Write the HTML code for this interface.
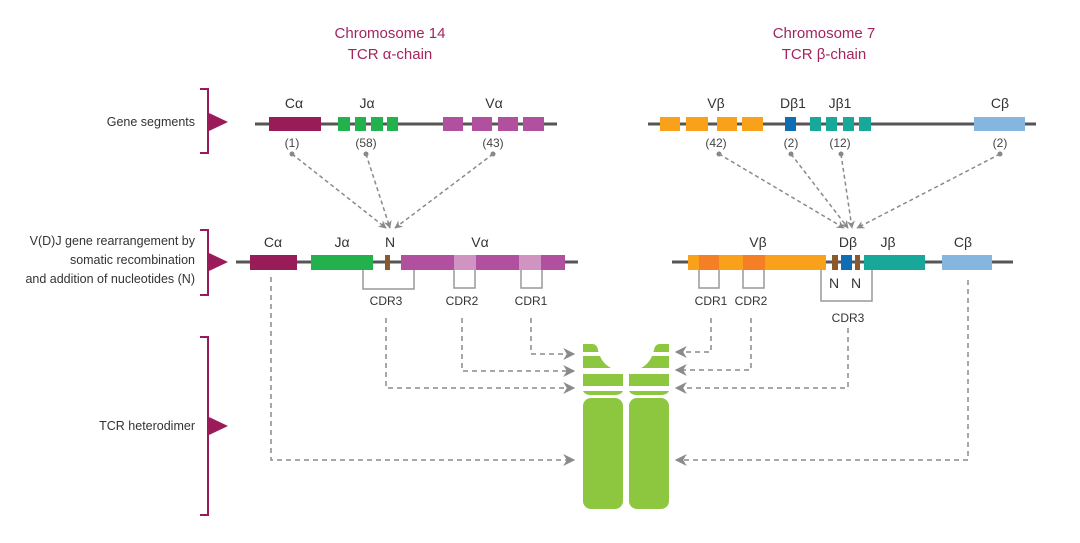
<!DOCTYPE html>
<html><head><meta charset="utf-8"><style>
html,body{margin:0;padding:0;background:#fff;}
svg{display:block;font-family:"Liberation Sans",sans-serif;}
</style></head><body>
<svg width="1080" height="543" viewBox="0 0 1080 543" xmlns="http://www.w3.org/2000/svg">
<defs>
<marker id="ah" viewBox="0 0 10 10" refX="9" refY="5" markerWidth="12" markerHeight="12" markerUnits="userSpaceOnUse" orient="auto"><path d="M0,0 L10,5 L0,10 L3,5 Z" fill="#8a8a8a"/></marker>
<marker id="ahs" viewBox="0 0 10 10" refX="9" refY="5" markerWidth="8" markerHeight="8" markerUnits="userSpaceOnUse" orient="auto"><path d="M0,0 L10,5 L0,10 L3,5 Z" fill="#8a8a8a"/></marker>
</defs>
<g fill="#a3245f" font-size="15" text-anchor="middle">
<text x="390" y="38">Chromosome 14</text><text x="390" y="59">TCR α-chain</text>
<text x="824" y="38">Chromosome 7</text><text x="824" y="59">TCR β-chain</text>
</g>
<g fill="#333" font-size="12.5" text-anchor="end">
<text x="195" y="126">Gene segments</text>
<text x="195" y="245">V(D)J gene rearrangement by</text>
<text x="195" y="264">somatic recombination</text>
<text x="195" y="283">and addition of nucleotides (N)</text>
<text x="195" y="430">TCR heterodimer</text>
</g>
<g stroke="#9b1b5a" stroke-width="2" fill="none">
<path d="M200,89 H208 V153 H200"/><path d="M200,230 H208 V295 H200"/><path d="M200,337 H208 V515 H200"/>
</g>
<g fill="#9b1b5a"><path d="M209,113 L228,122 L209,131Z"/><path d="M209,253 L228,262 L209,271Z"/><path d="M209,417 L228,426 L209,435Z"/></g>

<line x1="255" y1="124" x2="557" y2="124" stroke="#555" stroke-width="3"/>
<rect x="269" y="117" width="52" height="14" fill="#981c58"/>
<g fill="#22b14c"><rect x="338" y="117" width="12" height="14"/><rect x="355" y="117" width="11" height="14"/><rect x="371" y="117" width="12" height="14"/><rect x="387" y="117" width="11" height="14"/></g>
<g fill="#b0509e"><rect x="443" y="117" width="20" height="14"/><rect x="472" y="117" width="20" height="14"/><rect x="498" y="117" width="20" height="14"/><rect x="523" y="117" width="21" height="14"/></g>
<line x1="648" y1="124" x2="1036" y2="124" stroke="#555" stroke-width="3"/>
<g fill="#f9a11b"><rect x="660" y="117" width="20" height="14"/><rect x="686" y="117" width="22" height="14"/><rect x="717" y="117" width="20" height="14"/><rect x="742" y="117" width="21" height="14"/></g>
<rect x="785" y="117" width="11" height="14" fill="#0f6db5"/>
<g fill="#17a89a"><rect x="810" y="117" width="11" height="14"/><rect x="826" y="117" width="11" height="14"/><rect x="843" y="117" width="11" height="14"/><rect x="859" y="117" width="12" height="14"/></g>
<rect x="974" y="117" width="51" height="14" fill="#85b6e0"/>
<g fill="#333" font-size="14" text-anchor="middle">
<text x="294" y="108">Cα</text><text x="367" y="108">Jα</text><text x="494" y="108">Vα</text>
<text x="716" y="108">Vβ</text><text x="793" y="108">Dβ1</text><text x="840" y="108">Jβ1</text><text x="1000" y="108">Cβ</text>
</g>
<g fill="#444" font-size="12" text-anchor="middle">
<text x="292" y="147">(1)</text><text x="366" y="147">(58)</text><text x="493" y="147">(43)</text>
<text x="716" y="147">(42)</text><text x="791" y="147">(2)</text><text x="840" y="147">(12)</text><text x="1000" y="147">(2)</text>
</g>
<g fill="#888"><circle cx="292" cy="154" r="2.5"/><circle cx="366" cy="154" r="2.5"/><circle cx="493" cy="154" r="2.5"/><circle cx="719" cy="154" r="2.5"/><circle cx="791" cy="154" r="2.5"/><circle cx="841" cy="154" r="2.5"/><circle cx="1000" cy="154" r="2.5"/></g>
<g stroke="#8a8a8a" stroke-width="1.5" stroke-dasharray="4,3" fill="none" marker-end="url(#ahs)">
<line x1="292" y1="154" x2="386" y2="228"/><line x1="366" y1="154" x2="390" y2="228"/><line x1="493" y1="154" x2="395" y2="228"/>
<line x1="719" y1="154" x2="844" y2="228"/><line x1="791" y1="154" x2="848" y2="228"/><line x1="841" y1="154" x2="852" y2="228"/><line x1="1000" y1="154" x2="857" y2="228"/>
</g>

<line x1="236" y1="262" x2="578" y2="262" stroke="#555" stroke-width="3"/>
<rect x="250" y="255" width="47" height="15" fill="#981c58"/>
<rect x="311" y="255" width="62" height="15" fill="#22b14c"/>
<rect x="385" y="255" width="5" height="15" fill="#8b5a2b"/>
<rect x="401" y="255" width="164" height="15" fill="#b0509e"/>
<rect x="454" y="255" width="22" height="15" fill="#cf94c2"/><rect x="519" y="255" width="22" height="15" fill="#cf94c2"/>
<g fill="#333" font-size="14" text-anchor="middle"><text x="273" y="247">Cα</text><text x="342" y="247">Jα</text><text x="390" y="247">N</text><text x="480" y="247">Vα</text></g>
<g stroke="#999" stroke-width="1.5" fill="none">
<path d="M363,270 V289 H414 V270"/><path d="M454,270 V288 H475 V270"/><path d="M521,270 V288 H542 V270"/>
<path d="M699,270 V288 H719 V270"/><path d="M743,270 V288 H764 V270"/><path d="M821,270 V301 H872 V270"/>
</g>
<g fill="#333" font-size="12" text-anchor="middle"><text x="386" y="305">CDR3</text><text x="462" y="305">CDR2</text><text x="531" y="305">CDR1</text>
<text x="711" y="305">CDR1</text><text x="751" y="305">CDR2</text><text x="848" y="322">CDR3</text></g>
<line x1="672" y1="262" x2="1013" y2="262" stroke="#555" stroke-width="3"/>
<rect x="688" y="255" width="138" height="15" fill="#f9a11b"/>
<rect x="699" y="255" width="20" height="15" fill="#f47f24"/><rect x="743" y="255" width="22" height="15" fill="#f47f24"/>
<rect x="832" y="255" width="6" height="15" fill="#8b5a2b"/><rect x="841" y="255" width="11" height="15" fill="#0f6db5"/><rect x="855" y="255" width="5" height="15" fill="#8b5a2b"/>
<rect x="864" y="255" width="61" height="15" fill="#17a89a"/>
<rect x="942" y="255" width="50" height="15" fill="#85b6e0"/>
<g fill="#333" font-size="14" text-anchor="middle"><text x="758" y="247">Vβ</text><text x="848" y="247">Dβ</text><text x="888" y="247">Jβ</text><text x="963" y="247">Cβ</text>
<text x="834" y="288">N</text><text x="856" y="288">N</text></g>

<g stroke="#8a8a8a" stroke-width="1.5" stroke-dasharray="5,4" fill="none" marker-end="url(#ah)">
<path d="M271,277 V460 H574"/><path d="M386,318 V388 H574"/><path d="M462,318 V371 H574"/><path d="M531,318 V354 H574"/>
<path d="M968,280 V460 H676"/><path d="M848,328 V388 H676"/><path d="M751,318 V370 H676"/><path d="M711,318 V352 H676"/>
</g>

<g fill="#8dc63f">
<rect x="583" y="398" width="40" height="111" rx="8"/><rect x="629" y="398" width="40" height="111" rx="8"/>
<rect x="583" y="374" width="40" height="12"/><rect x="629" y="374" width="40" height="12"/>
<path d="M583,391 H623 Q621,395 615,395 H591 Q585,395 583,391Z"/><path d="M629,391 H669 Q667,395 661,395 H637 Q631,395 629,391Z"/>
<path d="M583,344 H592 Q597,344 598,350 Q601,363 611,368 H583Z"/>
<path d="M669,344 H660 Q655,344 654,350 Q651,363 641,368 H669Z"/>
</g>
<rect x="580" y="352" width="92" height="4" fill="#fff"/>
</svg>
</body></html>
